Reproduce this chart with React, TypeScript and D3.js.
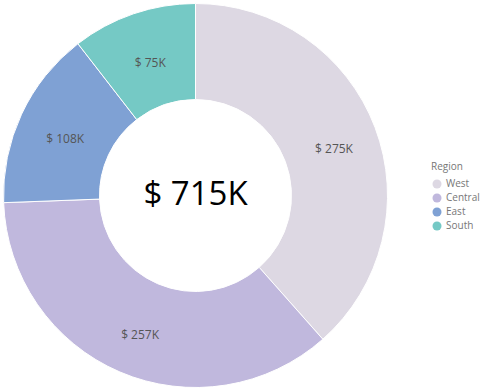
import React from "react";
import * as d3 from "d3";

const regions = ["West", "Central", "East", "South"];
const values = [275, 257, 108, 75];
const colors = ["#ddd8e3", "#c0b8dd", "#7fa1d4", "#75c9c5"];
const totalLabel = "$ 715K";

export default function App() {
  const W = 480, H = 391;
  const cx = 195.5, cy = 195.5, R = 192, r = 96;
  const pie = d3.pie<number>().sort(null).value((d) => d)(values);
  const arc = d3.arc<d3.PieArcDatum<number>>().innerRadius(r).outerRadius(R);
  const labelArc = d3.arc<d3.PieArcDatum<number>>().innerRadius(146).outerRadius(146);
  const font = "'Segoe UI', 'Open Sans', 'Noto Sans', sans-serif";
  return (
    <svg width={W} height={H} style={{ position: "absolute", left: 0, top: 0, background: "#fff" }} fontFamily={font}>
      <g transform={`translate(${cx},${cy})`}>
        {pie.map((p, i) => (
          <path key={i} d={arc(p) || ""} fill={colors[i]} stroke="#fff" strokeWidth={1} />
        ))}
        {pie.map((p, i) => {
          const [x, y] = labelArc.centroid(p);
          return (
            <text key={"l" + i} x={x + 2} y={y + 6} textAnchor="middle" dominantBaseline="middle" fontSize={12} fill="#555">
              {`$ ${values[i]}K`}
            </text>
          );
        })}
        <text x={0} y={9.5} textAnchor="middle" fontSize={33} fill="#000">
          {totalLabel}
        </text>
      </g>
      <g transform="translate(431,0)">
        <text x={0} y={170} fontSize={10} fill="#777">Region</text>
        {regions.map((name, i) => (
          <g key={name} transform={`translate(0,${184 + i * 14})`}>
            <circle cx={6} cy={0} r={4.5} fill={colors[i]} />
            <text x={15} y={0.5} dominantBaseline="middle" fontSize={10} fill="#777">{name}</text>
          </g>
        ))}
      </g>
    </svg>
  );
}
